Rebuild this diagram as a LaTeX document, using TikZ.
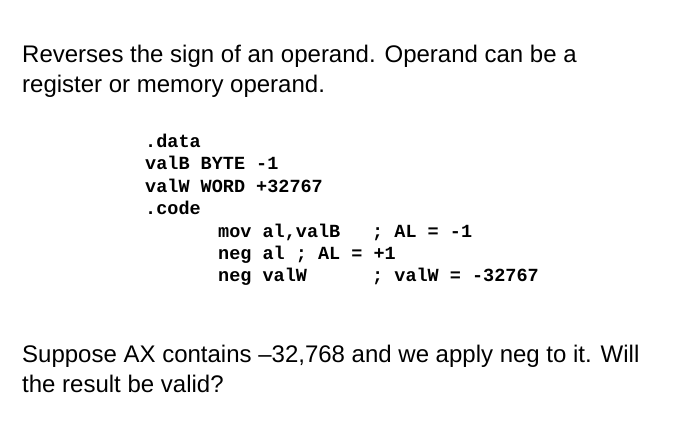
\documentclass[tikz,border=0pt]{standalone}
\usepackage{fontspec}
\setmainfont{Liberation Sans}
\newfontfamily\cmono{Liberation Mono}
\begin{document}
\begin{tikzpicture}[x=1pt,y=-1pt,
  txt/.style={anchor=base west,inner sep=0pt,font=\fontsize{24}{28}\selectfont},
  code/.style={anchor=base west,inner sep=0pt,font=\cmono\bfseries\fontsize{18.5}{22}\selectfont}]
\useasboundingbox (0,0) rectangle (700,423);
\node[txt] (t1) at (22,62) {Reverses the sign of an operand. Operand can be a};
\node[txt] (t2) at (22,92) {register or memory operand.};
\node[code] (c1) at (145,147) {.data};
\node[code] (c2) at (145,169) {valB BYTE -1};
\node[code] (c3) at (145,192) {valW WORD +32767};
\node[code] (c4) at (145,214) {.code};
\node[code] (c5) at (218,237) {mov al,valB};
\node[code] (c5c) at (372,237) {; AL = -1};
\node[code] (c6) at (218,259) {neg al ; AL = +1};
\node[code] (c7) at (218,281) {neg valW};
\node[code] (c7c) at (372,281) {; valW = -32767};
\node[txt] (b1) at (22,362) {Suppose AX contains –32,768 and we apply neg to it. Will};
\node[txt] (b2) at (22,392) {the result be valid?};
\end{tikzpicture}
\end{document}
